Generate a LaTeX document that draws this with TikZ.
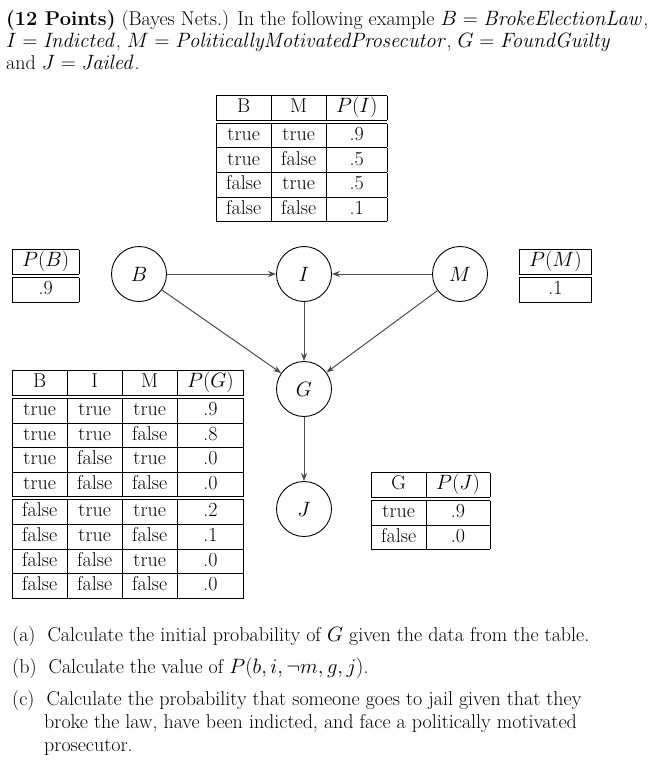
\documentclass[tikz,border=0pt]{standalone}
\usepackage{amsmath,amssymb}
\usetikzlibrary{arrows.meta}
\begin{document}
\begin{tikzpicture}[x=1pt,y=-1pt,
  base/.style={inner sep=0pt,font=\fontsize{20}{25}\selectfont},
  txt/.style={base,anchor=base west},
  tbl/.style={base,anchor=north west},
  var/.style={draw,circle,line width=0.9pt,minimum size=55pt,inner sep=0pt,font=\fontsize{20}{20}\selectfont},
  edge/.style={draw=black!70,line width=1pt,-{Stealth[length=8pt,width=6pt]}}]
\useasboundingbox (0,0) rectangle (659,767);
\setlength{\tabcolsep}{10pt}\setlength{\doublerulesep}{3pt}\setlength{\arrayrulewidth}{0.9pt}
\renewcommand{\arraystretch}{0.95}
\node[txt] (t1) at (6,26) {\textbf{(12 Points)} (Bayes Nets.) In the following example $B = \mathit{BrokeElectionLaw}$,};
\node[txt] (t2) at (6,48) {$I = \mathit{Indicted}$, $M = \mathit{PoliticallyMotivatedProsecutor}$, $G = \mathit{FoundGuilty}$};
\node[txt] (t3) at (6,70) {and $J = \mathit{Jailed}$.};

\node[tbl] (TI) at (216,95) {\begin{tabular}{|c|c|c|}\hline B & M & $P(I)$\\\hline\hline true & true & .9\\\hline true & false & .5\\\hline false & true & .5\\\hline false & false & .1\\\hline\end{tabular}};
\node[tbl] (TB) at (12,249) {\begin{tabular}{|c|}\hline $P(B)$\\\hline\hline .9\\\hline\end{tabular}};
\node[tbl] (TM) at (519,249) {\begin{tabular}{|c|}\hline $P(M)$\\\hline\hline .1\\\hline\end{tabular}};
\node[tbl] (TG) at (12,370) {\begin{tabular}{|c|c|c|c|}\hline B & I & M & $P(G)$\\\hline\hline true & true & true & .9\\\hline true & true & false & .8\\\hline true & false & true & .0\\\hline true & false & false & .0\\\hline\hline false & true & true & .2\\\hline false & true & false & .1\\\hline false & false & true & .0\\\hline false & false & false & .0\\\hline\end{tabular}};
\node[tbl] (TJ) at (371,472) {\begin{tabular}{|c|c|}\hline G & $P(J)$\\\hline\hline true & .9\\\hline false & .0\\\hline\end{tabular}};

\node[var] (B) at (139,274) {$B$};
\node[var] (I) at (304,274) {$I$};
\node[var] (M) at (460,274) {$M$};
\node[var] (G) at (304,389) {$G$};
\node[var] (J) at (304,509) {$J$};
\path[edge] (B) -- (I);
\path[edge] (M) -- (I);
\path[edge] (B) -- (G);
\path[edge] (I) -- (G);
\path[edge] (M) -- (G);
\path[edge] (G) -- (J);

\node[txt] (a) at (12,641) {(a)\ \ Calculate the initial probability of $G$ given the data from the table.};
\node[txt] (b) at (12,673) {(b)\ \ Calculate the value of $P(b,i,\neg m,g,j)$.};
\node[txt] (c1) at (12,705) {(c)\ \ Calculate the probability that someone goes to jail given that they};
\node[txt] (c2) at (44,728) {broke the law, have been indicted, and face a politically motivated};
\node[txt] (c3) at (44,751) {prosecutor.};
\end{tikzpicture}
\end{document}
